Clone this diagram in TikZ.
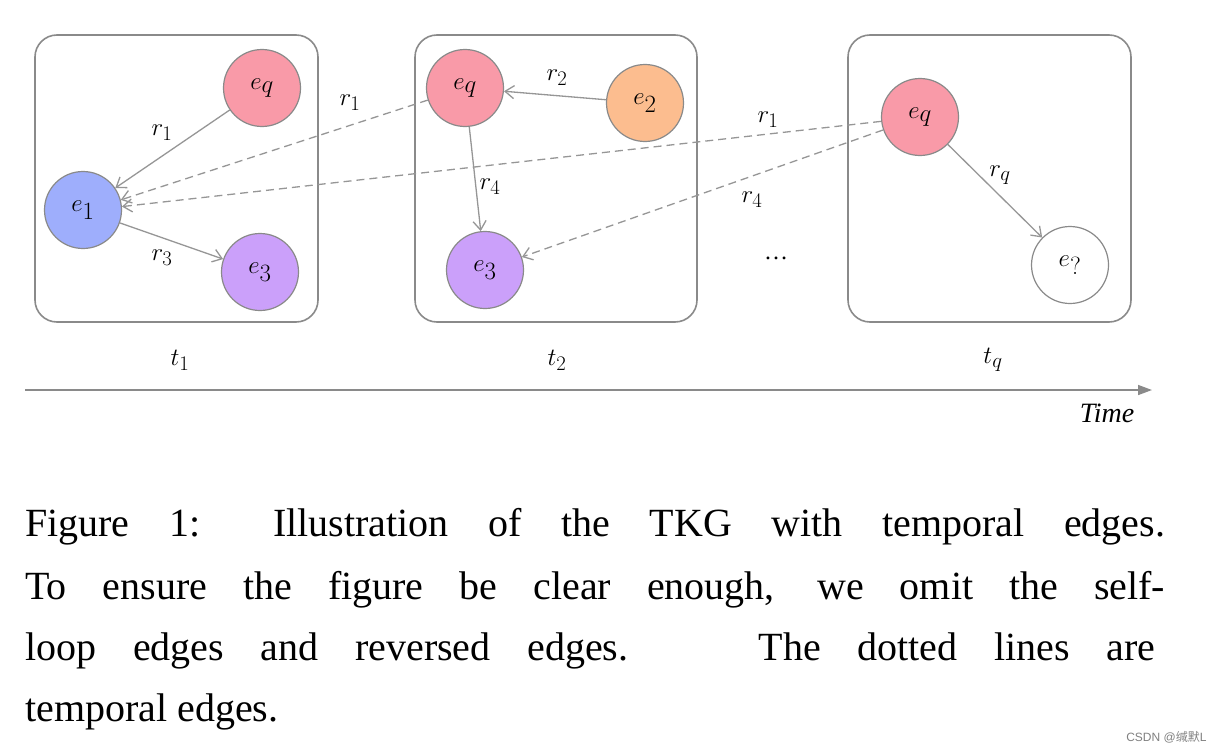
\documentclass[tikz,border=0pt]{standalone}
\usepackage{fontspec}
\setmainfont{Liberation Serif}
\newfontfamily\cjk{Noto Sans CJK SC}
\newfontfamily\wsans{Liberation Sans}
\usetikzlibrary{arrows.meta}
\definecolor{bd}{HTML}{8A8A8A}
\begin{document}
\begin{tikzpicture}[x=1pt,y=-1pt,
  panel/.style={draw=bd,line width=1.6pt,rounded corners=22pt},
  ent/.style={circle,draw=bd,line width=1.2pt,minimum size=77pt,inner sep=0pt,font=\fontsize{38}{40}\selectfont\itshape},
  rel/.style={draw=bd!90,line width=1.3pt,-{Straight Barb[length=9pt,width=13pt]}},
  tmp/.style={rel,dash pattern=on 8pt off 5pt},
  lab/.style={font=\fontsize{28}{30}\selectfont\itshape},
  captext/.style={anchor=west,inner sep=0pt,font=\fontsize{40}{44}\selectfont}]
\useasboundingbox (0,0) rectangle (1214,752);
\draw[panel] (35,35) rectangle (318,322);
\draw[panel] (415,35) rectangle (697,322);
\draw[panel] (848,35) rectangle (1131,322);
\node[ent,fill={rgb,255:red,249;green,154;blue,168}] (eqa) at (262,88) {$e_q$};
\node[ent,fill={rgb,255:red,158;green,174;blue,252}] (e1) at (83,210) {$e_1$};
\node[ent,fill={rgb,255:red,203;green,160;blue,250}] (e3a) at (260,272) {$e_3$};
\node[ent,fill={rgb,255:red,249;green,154;blue,168}] (eqb) at (465,88) {$e_q$};
\node[ent,fill={rgb,255:red,252;green,189;blue,143}] (e2) at (645,103) {$e_2$};
\node[ent,fill={rgb,255:red,203;green,160;blue,250}] (e3b) at (485,270) {$e_3$};
\node[ent,fill={rgb,255:red,249;green,154;blue,168}] (eqc) at (920,117) {$e_q$};
\node[ent,fill=white] (eu) at (1070,265) {$e_?$};
\draw[rel] (eqa) -- (e1);
\draw[rel] (e1) -- (e3a);
\draw[rel] (e2) -- (eqb);
\draw[rel] (eqb) -- (e3b);
\draw[rel] (eqc) -- (eu);
\draw[tmp] (eqb) -- (e1.15);
\draw[tmp] (eqc) -- (e1.5);
\draw[tmp] (eqc) -- (e3b);
\node[lab] (l1) at (162,133) {$r_1$};
\node[lab] (l2) at (162,258) {$r_3$};
\node[lab] (l3) at (350,103) {$r_1$};
\node[lab] (l4) at (557,78) {$r_2$};
\node[lab] (l5) at (490,187) {$r_4$};
\node[lab] (l6) at (768,120) {$r_1$};
\node[lab] (l7) at (752,200) {$r_4$};
\node[lab] (l8) at (1000,175) {$r_q$};
\node[font=\fontsize{24}{26}\selectfont] (dots) at (776,258) {\dots};
\node[lab] (t1) at (180,360) {$t_1$};
\node[lab] (t2) at (557,360) {$t_2$};
\node[lab] (tq) at (993,360) {$t_q$};
\coordinate (a0) at (25,390);
\coordinate (a1) at (1152,390);
\draw[bd,line width=1.5pt,-{Triangle[length=14pt,width=10pt]}] (a0) -- (a1);
\node[font=\fontsize{28}{30}\selectfont\itshape] (time) at (1107,413) {Time};
\node[captext] (c1) at (25,527) {\makebox[1140pt][s]{Figure 1: Illustration of the TKG with temporal edges.}};
\node[captext] (c2) at (25,590) {\makebox[1140pt][s]{To ensure the figure be clear enough, we omit the self-}};
\node[captext] (c3) at (25,651) {\makebox[1130pt][s]{loop edges and reversed edges. \ The dotted lines are}};
\node[captext] (c4) at (25,712) {temporal edges.};
\node[anchor=east,text=gray,font=\fontsize{12}{14}\selectfont] (wm) at (1210,737) {\wsans CSDN @{\cjk 缄默}L};
\end{tikzpicture}
\end{document}
